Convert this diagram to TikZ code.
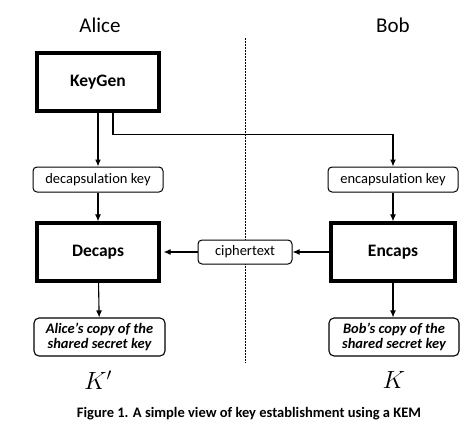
\documentclass[tikz,border=0pt]{standalone}
\usepackage{fontspec}
\setmainfont{Carlito}[Ligatures=NoCommon]
\usetikzlibrary{arrows.meta}
\begin{document}
\begin{tikzpicture}[x=1pt,y=-1pt,
  bigbox/.style={draw, line width=3.2pt, fill=white, font=\fontsize{17.5}{19}\selectfont\bfseries, inner sep=0pt},
  keybox/.style={draw, line width=1pt, rounded corners=4pt, fill=white, font=\fontsize{14.5}{16}\selectfont, inner sep=0pt},
  secbox/.style={draw, line width=1.1pt, rounded corners=5pt, fill=white, font=\fontsize{14.5}{16}\selectfont\bfseries\itshape, inner sep=0pt, align=center},
  conn/.style={line width=1.1pt, -{Latex[length=7pt,width=6pt]}},
  party/.style={font=\fontsize{21}{23}\selectfont},
  kvar/.style={font=\fontsize{26}{28}\selectfont}]
\useasboundingbox (0,0) rectangle (474,426);
% divider
\coordinate (dtop) at (245,38);
\coordinate (dbot) at (245,363);
\draw[line width=0.8pt, dash pattern=on 1.5pt off 1.5pt] (dtop) -- (dbot);
% titles
\node[party] (alice) at (100,25) {Alice};
\node[party] (bob) at (393,25) {Bob};
% boxes
\node[bigbox, minimum width=122, minimum height=58] (keygen) at (98,82) {KeyGen};
\node[keybox, minimum width=130, minimum height=25] (deckey) at (98,179.5) {decapsulation key};
\node[keybox, minimum width=130, minimum height=25] (enckey) at (393,179.5) {encapsulation key};
\node[bigbox, minimum width=122, minimum height=58] (decaps) at (98,252) {Decaps};
\node[bigbox, minimum width=124, minimum height=58] (encaps) at (393,252) {Encaps};
\node[keybox, minimum width=94, minimum height=24] (cipher) at (245,252) {ciphertext};
\node[secbox, minimum width=131, minimum height=38] (asec) at (99.5,337) {Alice’s copy of the\\[-1pt]shared secret key};
\node[secbox, minimum width=130, minimum height=38] (bsec) at (394,337) {Bob’s copy of the\\[-1pt]shared secret key};
\node[kvar] (kp) at (98,380) {$K'$};
\node[kvar] (k) at (394,380) {$K$};
% caption
\node[font=\fontsize{14.5}{16}\selectfont\bfseries] (cap) at (249,414) {Figure 1. A simple view of key establishment using a KEM};
% connectors
\draw[conn] (keygen.south) -- (deckey.north);
\draw[conn] ([xshift=15pt]keygen.south) -- ++(0,22) -| (enckey.north);
\draw[conn] (deckey) -- (decaps);
\draw[conn] (enckey) -- (encaps);
\draw[conn] (encaps) -- (cipher);
\draw[conn, shorten >=3pt] (cipher) -- (decaps);
\draw[conn] (decaps) -- (asec);
\draw[conn] (encaps.south) -- (encaps.south |- bsec.north);
\end{tikzpicture}
\end{document}
